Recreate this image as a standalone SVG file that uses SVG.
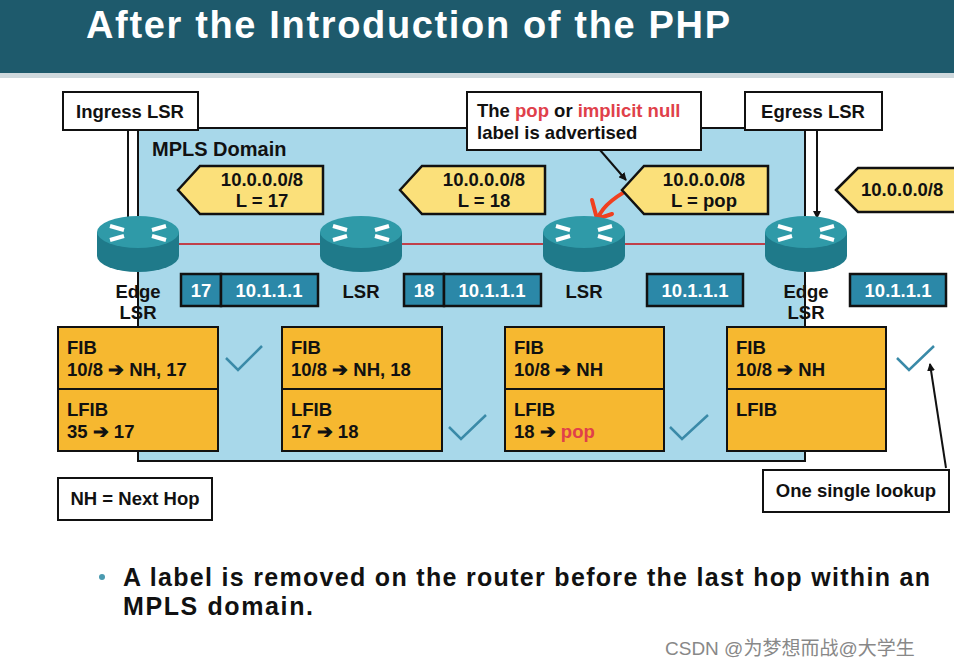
<svg xmlns="http://www.w3.org/2000/svg" width="954" height="668" viewBox="0 0 954 668">
<defs>
<style>
text{font-family:"Liberation Sans",Arial,sans-serif;font-weight:bold;fill:#111;font-size:18.5px}
.w{fill:#fff}
.c{text-anchor:middle}
.r{fill:#e0404a}
.tag{fill:#fbe07a;stroke:#111;stroke-width:2.5}
.pk{fill:#2b88a8;stroke:#111;stroke-width:2.5}
.fib{fill:#f6b830;stroke:#111;stroke-width:2}
.box{fill:#fff;stroke:#111;stroke-width:2}
.ck{fill:none;stroke:#3a8aa8;stroke-width:2.5}
</style>
<marker id="ar" markerWidth="8" markerHeight="8" refX="7" refY="4" orient="auto" markerUnits="userSpaceOnUse"><path d="M0,0 L8,4 L0,8 z" fill="#111"/></marker>
<g id="rt">
<path d="M-41,0 v24 a41,16 0 0 0 82,0 v-24 z" fill="#1f7a8a"/>
<ellipse cx="0" cy="0" rx="41" ry="16" fill="#2f9aa8"/>
<path d="M-28,-6 l14,4 M28,-6 l-14,4 M-28,8 l14,-4 M28,8 l-14,-4" stroke="#fff" stroke-width="4"/>
</g>
</defs>
<rect width="954" height="668" fill="#fff"/>
<rect x="0" y="0" width="954" height="73" fill="#1e5a6c"/>
<rect x="0" y="73" width="954" height="5" fill="#cfd9dd"/>
<text x="86" y="38" style="font-size:38px" textLength="644" class="w">After the Introduction of the PHP</text>
<g id="domain"><rect x="138" y="128" width="667" height="333" fill="#a8d8ea" stroke="#111" stroke-width="2"/>
<text x="152" y="156" style="font-size:20px">MPLS Domain</text></g>
<g id="connectors">
<line x1="138" y1="244" x2="806" y2="244" stroke="#c0404a" stroke-width="2"/>
<line x1="128" y1="130" x2="128" y2="226" stroke="#111" stroke-width="2" marker-end="url(#ar)"/>
<line x1="817" y1="130" x2="817" y2="218" stroke="#111" stroke-width="2" marker-end="url(#ar)"/>
<line x1="600" y1="150" x2="626" y2="180" stroke="#111" stroke-width="2" marker-end="url(#ar)"/>
<line x1="946" y1="468" x2="930" y2="364" stroke="#111" stroke-width="2" marker-end="url(#ar)"/>
<path d="M640,184 Q605,200 598,218 M592,200 L597,219 L612,214" fill="none" stroke="#f04020" stroke-width="4" stroke-linecap="round"/>
</g>
<g id="router1"><use href="#rt" x="138" y="232"/><text x="138" y="298" class="c">Edge</text><text x="138" y="319" class="c">LSR</text></g>
<g id="router2"><use href="#rt" x="361" y="232"/><text x="361" y="298" class="c">LSR</text></g>
<g id="router3"><use href="#rt" x="584" y="232"/><text x="584" y="298" class="c">LSR</text></g>
<g id="router4"><use href="#rt" x="806" y="232"/><text x="806" y="298" class="c">Edge</text><text x="806" y="319" class="c">LSR</text></g>
<g id="tag1"><path class="tag" d="M178,190 L200,166 H323 V214 H200 z"/><text x="262" y="186" class="c">10.0.0.0/8</text><text x="262" y="207" class="c">L = 17</text></g>
<g id="tag2"><path class="tag" d="M400,190 L422,166 H545 V214 H422 z"/><text x="484" y="186" class="c">10.0.0.0/8</text><text x="484" y="207" class="c">L = 18</text></g>
<g id="tag3"><path class="tag" d="M622,190 L644,166 H768 V214 H644 z"/><text x="704" y="186" class="c">10.0.0.0/8</text><text x="704" y="207" class="c">L = pop</text></g>
<g id="tag4"><path class="tag" d="M836,190 L858,168 H956 V212 H858 z"/><text x="861" y="196">10.0.0.0/8</text></g>
<g id="pkt1"><rect class="pk" x="181" y="274" width="40" height="32"/><rect class="pk" x="221" y="274" width="97" height="32"/><text x="201" y="297" class="w c">17</text><text x="269" y="297" class="w c">10.1.1.1</text></g>
<g id="pkt2"><rect class="pk" x="404" y="274" width="40" height="32"/><rect class="pk" x="444" y="274" width="97" height="32"/><text x="424" y="297" class="w c">18</text><text x="492" y="297" class="w c">10.1.1.1</text></g>
<g id="pkt3"><rect class="pk" x="647" y="274" width="96" height="32"/><text x="695" y="297" class="w c">10.1.1.1</text></g>
<g id="pkt4"><rect class="pk" x="850" y="274" width="96" height="32"/><text x="898" y="297" class="w c">10.1.1.1</text></g>
<g id="fib1"><rect class="fib" x="58" y="327" width="160" height="62"/><rect class="fib" x="58" y="389" width="160" height="62"/><text x="67" y="354">FIB</text><text x="67" y="376">10/8 ➔ NH, 17</text><text x="67" y="416">LFIB</text><text x="67" y="438">35 ➔ 17</text></g>
<g id="fib2"><rect class="fib" x="282" y="327" width="160" height="62"/><rect class="fib" x="282" y="389" width="160" height="62"/><text x="291" y="354">FIB</text><text x="291" y="376">10/8 ➔ NH, 18</text><text x="291" y="416">LFIB</text><text x="291" y="438">17 ➔ 18</text></g>
<g id="fib3"><rect class="fib" x="505" y="327" width="159" height="62"/><rect class="fib" x="505" y="389" width="159" height="62"/><text x="514" y="354">FIB</text><text x="514" y="376">10/8 ➔ NH</text><text x="514" y="416">LFIB</text><text x="514" y="438">18 ➔ <tspan class="r">pop</tspan></text></g>
<g id="fib4"><rect class="fib" x="727" y="327" width="159" height="62"/><rect class="fib" x="727" y="389" width="159" height="62"/><text x="736" y="354">FIB</text><text x="736" y="376">10/8 ➔ NH</text><text x="736" y="416">LFIB</text></g>
<g id="checks">
<path class="ck" d="M226,358 L238,370 L262,346"/>
<path class="ck" d="M449,427 L461,439 L486,415"/>
<path class="ck" d="M670,427 L682,439 L708,415"/>
<path class="ck" d="M897,358 L909,370 L934,346"/>
</g>
<g id="ingress"><rect class="box" x="63" y="92" width="135" height="38"/><text x="130" y="118" class="c">Ingress LSR</text></g>
<g id="egress"><rect class="box" x="745" y="92" width="137" height="38"/><text x="813" y="118" class="c">Egress LSR</text></g>
<g id="popnote"><rect class="box" x="467" y="92" width="234" height="58"/><text x="477" y="117">The <tspan class="r">pop</tspan> or <tspan class="r">implicit null</tspan></text><text x="477" y="139">label is advertised</text></g>
<g id="nh"><rect class="box" x="58" y="478" width="154" height="42"/><text x="135" y="505" class="c">NH = Next Hop</text></g>
<g id="lookup"><rect class="box" x="763" y="470" width="186" height="42"/><text x="856" y="497" class="c">One single lookup</text></g>
<circle cx="102" cy="577" r="3" fill="#4a9ab0"/>
<text x="123" y="586" style="font-size:25px" textLength="807">A label is removed on the router before the last hop within an</text>
<text x="123" y="615" style="font-size:25px" textLength="190">MPLS domain.</text>
<text x="665" y="655" style="font-size:19px;font-weight:normal;fill:#888;font-family:'Liberation Sans','Noto Sans CJK SC',sans-serif">CSDN @为梦想而战@大学生</text>
</svg>
